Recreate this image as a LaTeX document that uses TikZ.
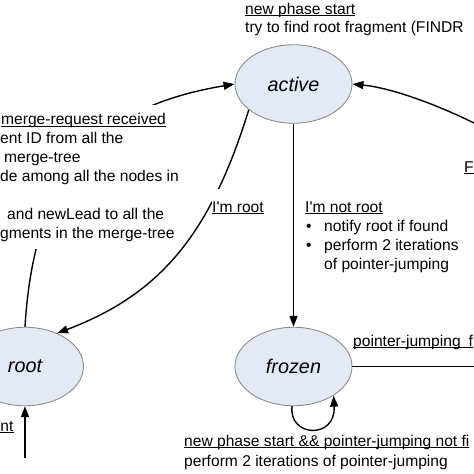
\documentclass[tikz,border=0pt]{standalone}
\usepackage{fontspec}
\setmainfont{Liberation Sans}
\usetikzlibrary{shapes.geometric,arrows.meta}
\definecolor{statefill}{RGB}{227,234,246}
\definecolor{stateline}{RGB}{140,140,140}
\newcommand{\myul}[1]{\setbox0\hbox{#1}\rlap{\rule[-2.4pt]{\wd0}{1pt}}\box0}
\begin{document}
\begin{tikzpicture}[x=1pt,y=-1pt,
  state/.style={ellipse, draw=stateline, line width=0.9pt, fill=statefill,
    minimum width=117pt, minimum height=78.5pt, inner sep=0pt,
    font=\fontsize{19.8}{22}\selectfont\itshape},
  conn/.style={line width=1.4pt, draw=black},
  arr/.style={conn, -{Triangle[length=11pt,width=8pt]}},
  txt/.style={font=\fontsize{15.6}{19}\selectfont, inner sep=0pt, anchor=base west},
]
\useasboundingbox (0,0) rectangle (474,474);
% states
\node[state] (active) at (293.5,84) {active};
\node[state] (frozen) at (293.5,366.5) {frozen};
\node[state] (root) at (25,366.5) {root};
\coordinate (rightin) at (476,124);
\coordinate (rightout) at (476,366.5);
\coordinate (rootin) at (25,458);
% connectors
\draw[arr] (root.north) .. controls (35,160) and (110,105) .. (active.west);
\draw[arr] (active.210) .. controls (210.3,234.4) and (160,294.4) .. (root.46);
\draw[arr] (active.south) -- (frozen.north);
\draw[arr] (frozen.268) .. controls (288,437) and (336,440) .. (frozen.324);
\draw[conn] (frozen.east) -- (rightout);
\draw[arr] (rightin) .. controls (438,105) and (392,88) .. (active.east);
\draw[arr] (rootin) -- (root.south);
% texts
\node[txt] (tA) at (245,14) {\myul{new phase start}};
\node[txt] (tB) at (245,32.5) {try to find root fragment (FINDR};
\node[txt, anchor=north west, fill=white, align=left] (tL) at (0,105)
  {\rule{0pt}{19pt}\hspace*{1pt}\myul{merge-request received}\\
   ent ID from all the\\
   \hspace*{4pt}merge-tree\\
   de among all the nodes in\\[19pt]
   \hspace*{7pt}and newLead to all the\\
   gments in the merge-tree\rule[-11pt]{0pt}{11pt}};
\node[txt, fill=white, text height=23pt, text depth=4pt] (lR) at (212,212) {\myul{I\textquotesingle m root}};
\node[txt] (n1) at (305,212) {\myul{I\textquotesingle m not root}};
\node[txt] (b1) at (306,231) {\textbullet};
\node[txt] (n2) at (324,231) {notify root if found};
\node[txt] (b2) at (306,250) {\textbullet};
\node[txt] (n3) at (324,250) {perform 2 iterations};
\node[txt] (n4) at (324,269) {of pointer-jumping};
\node[txt] (rF) at (464,172) {\myul{F\hspace{6pt}}};
\node[txt] (pj) at (353,346) {\myul{pointer-jumping\hspace{8pt}f}};
\node[txt] (bt1) at (184,446) {\myul{new phase start \&\& pointer-jumping not fi}};
\node[txt] (bt2) at (184,466) {perform 2 iterations of pointer-jumping};
\node[txt] (nt) at (0.3,431) {\myul{nt}};
\end{tikzpicture}
\end{document}
